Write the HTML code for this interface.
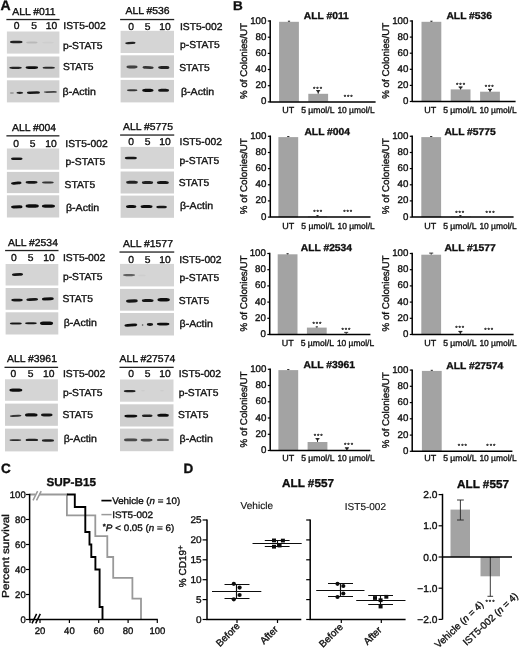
<!DOCTYPE html>
<html lang="en">
<head>
<meta charset="utf-8">
<title>Figure</title>
<style>
html,body{margin:0;padding:0;background:#fff;}
svg{display:block;}
text{font-family:"Liberation Sans", Arial, Helvetica, sans-serif;fill:#111;stroke:#111;stroke-width:0.35px;text-rendering:geometricPrecision;}
</style>
</head>
<body>
<svg width="520" height="649" viewBox="0 0 520 649">
<defs>
<filter id="bl" x="-10%" y="-50%" width="120%" height="200%"><feGaussianBlur stdDeviation="0.7 0.5"/></filter>
<filter id="soft" x="0" y="0" width="520" height="649" filterUnits="userSpaceOnUse"><feGaussianBlur stdDeviation="0.4"/></filter>
</defs>
<rect width="520" height="649" fill="#fff"/>
<g filter="url(#soft)">
<text transform="translate(12.2 15.3) scale(1.03 1)" font-size="10.1">ALL #011</text>
<rect x="6.4" y="18.9" width="53.2" height="1.3" fill="#222"/>
<text transform="translate(16.5 29.3) scale(1.03 1)" font-size="10.0" text-anchor="middle">0</text>
<text transform="translate(34 29.3) scale(1.03 1)" font-size="10.0" text-anchor="middle">5</text>
<text transform="translate(51.5 29.3) scale(1.03 1)" font-size="10.0" text-anchor="middle">10</text>
<text transform="translate(63.3 29.3) scale(1.03 1)" font-size="10.0">IST5-002</text>
<rect x="6.9" y="31.5" width="52.5" height="22.1" fill="#d5d5d5"/>
<text transform="translate(62.9 48.7) scale(1.03 1)" font-size="10.0">p-STAT5</text>
<rect x="6.9" y="56.5" width="52.5" height="21.200000000000003" fill="#cfcfcf"/>
<text transform="translate(62.9 70.0) scale(1.03 1)" font-size="10.0">STAT5</text>
<rect x="6.9" y="80.3" width="52.5" height="22.10000000000001" fill="#d1d1d1"/>
<text x="62.6" y="94.5" font-size="10.0" textLength="33.2" lengthAdjust="spacingAndGlyphs">β-Actin</text>
<g filter="url(#bl)">
<rect x="10.00" y="40.80" width="12.50" height="2.40" rx="3.20" ry="1.20" fill="#101010" opacity="0.9"/>
<rect x="26.20" y="41.40" width="11.30" height="2.20" rx="3.20" ry="1.10" fill="#101010" opacity="0.13"/>
<rect x="42.00" y="41.70" width="12.00" height="1.80" rx="3.20" ry="0.90" fill="#101010" opacity="0.03"/>
<rect x="9.40" y="66.70" width="12.50" height="2.20" rx="3.20" ry="1.10" fill="#101010" opacity="0.9"/>
<rect x="25.60" y="66.30" width="12.50" height="2.60" rx="3.20" ry="1.30" fill="#101010" opacity="1"/>
<rect x="42.50" y="66.80" width="12.50" height="2.00" rx="3.20" ry="1.00" fill="#101010" opacity="0.85"/>
<rect x="9.80" y="92.10" width="4.20" height="1.80" rx="2.10" ry="0.90" fill="#101010" opacity="0.25"/>
<rect x="16.50" y="91.65" width="6.60" height="2.30" rx="3.20" ry="1.15" fill="#101010" opacity="0.9"/>
<rect x="26.90" y="91.35" width="13.10" height="2.50" rx="3.20" ry="1.25" fill="#101010" opacity="0.95" transform="rotate(-1 33.5 92.6)"/>
<rect x="43.80" y="91.15" width="13.10" height="1.70" rx="3.20" ry="0.85" fill="#101010" opacity="0.75" transform="rotate(-1 50.3 92)"/>
</g>
<text transform="translate(125.5 14.2) scale(1.03 1)" font-size="10.1">ALL #536</text>
<rect x="120.1" y="18.9" width="54.10000000000001" height="1.3" fill="#222"/>
<text transform="translate(131 29.7) scale(1.03 1)" font-size="10.0" text-anchor="middle">0</text>
<text transform="translate(147.5 29.7) scale(1.03 1)" font-size="10.0" text-anchor="middle">5</text>
<text transform="translate(165 29.7) scale(1.03 1)" font-size="10.0" text-anchor="middle">10</text>
<text transform="translate(180 29.7) scale(1.03 1)" font-size="10.0">IST5-002</text>
<rect x="120.6" y="30.8" width="53.400000000000006" height="22.2" fill="#d5d5d5"/>
<text transform="translate(180 48.3) scale(1.03 1)" font-size="10.0">p-STAT5</text>
<rect x="120.6" y="55.3" width="53.400000000000006" height="22.400000000000006" fill="#cfcfcf"/>
<text transform="translate(179.2 70.7) scale(1.03 1)" font-size="10.0">STAT5</text>
<rect x="120.6" y="79.9" width="53.400000000000006" height="22.5" fill="#d1d1d1"/>
<text x="181" y="94.5" font-size="10.0" textLength="33.2" lengthAdjust="spacingAndGlyphs">β-Actin</text>
<g filter="url(#bl)">
<rect x="125.20" y="41.85" width="10.40" height="2.30" rx="3.20" ry="1.15" fill="#101010" opacity="0.9" transform="rotate(-3 130.4 43)"/>
<rect x="126.50" y="65.60" width="11.00" height="2.80" rx="3.20" ry="1.40" fill="#101010" opacity="0.75"/>
<rect x="142.50" y="66.10" width="11.20" height="2.80" rx="3.20" ry="1.40" fill="#101010" opacity="0.8" transform="rotate(2 148.1 67.5)"/>
<rect x="158.10" y="66.00" width="11.30" height="3.00" rx="3.20" ry="1.50" fill="#101010" opacity="0.9" transform="rotate(-1 163.8 67.5)"/>
<rect x="126.90" y="89.30" width="10.60" height="2.00" rx="3.20" ry="1.00" fill="#101010" opacity="0.8"/>
<rect x="142.20" y="88.70" width="11.30" height="3.20" rx="3.20" ry="1.60" fill="#101010" opacity="1"/>
<rect x="158.10" y="88.80" width="10.90" height="3.00" rx="3.20" ry="1.50" fill="#101010" opacity="0.95"/>
</g>
<text transform="translate(12 130.7) scale(1.03 1)" font-size="10.1">ALL #004</text>
<rect x="6.4" y="135.2" width="53.00000000000001" height="1.3" fill="#222"/>
<text transform="translate(16 146.6) scale(1.03 1)" font-size="10.0" text-anchor="middle">0</text>
<text transform="translate(32.5 146.6) scale(1.03 1)" font-size="10.0" text-anchor="middle">5</text>
<text transform="translate(51 146.6) scale(1.03 1)" font-size="10.0" text-anchor="middle">10</text>
<text transform="translate(65.3 146.6) scale(1.03 1)" font-size="10.0">IST5-002</text>
<rect x="6.9" y="148.5" width="52.300000000000004" height="21.19999999999999" fill="#d5d5d5"/>
<text transform="translate(65.6 165.2) scale(1.03 1)" font-size="10.0">p-STAT5</text>
<rect x="6.9" y="171.9" width="52.300000000000004" height="21.19999999999999" fill="#cfcfcf"/>
<text transform="translate(64.6 187.6) scale(1.03 1)" font-size="10.0">STAT5</text>
<rect x="6.9" y="195.3" width="52.300000000000004" height="22.19999999999999" fill="#d1d1d1"/>
<text x="66" y="210.5" font-size="10.0" textLength="33.2" lengthAdjust="spacingAndGlyphs">β-Actin</text>
<g filter="url(#bl)">
<rect x="11.00" y="157.50" width="11.50" height="2.60" rx="3.20" ry="1.30" fill="#101010" opacity="0.95"/>
<rect x="11.00" y="181.70" width="10.50" height="2.80" rx="3.20" ry="1.40" fill="#101010" opacity="1" transform="rotate(-5 16.2 183.1)"/>
<rect x="25.60" y="180.90" width="11.90" height="2.80" rx="3.20" ry="1.40" fill="#101010" opacity="0.95"/>
<rect x="41.90" y="181.50" width="11.90" height="2.00" rx="3.20" ry="1.00" fill="#101010" opacity="0.8"/>
<rect x="11.00" y="205.40" width="11.50" height="3.00" rx="3.20" ry="1.50" fill="#101010" opacity="1" transform="rotate(-2 16.8 206.9)"/>
<rect x="25.60" y="204.30" width="13.20" height="3.40" rx="3.20" ry="1.70" fill="#101010" opacity="1"/>
<rect x="41.90" y="204.50" width="13.10" height="3.20" rx="3.20" ry="1.60" fill="#101010" opacity="1"/>
</g>
<text transform="translate(123 130.3) scale(1.03 1)" font-size="10.1">ALL #5775</text>
<rect x="120.1" y="134.4" width="54.10000000000001" height="1.3" fill="#222"/>
<text transform="translate(131 145.3) scale(1.03 1)" font-size="10.0" text-anchor="middle">0</text>
<text transform="translate(147.5 145.3) scale(1.03 1)" font-size="10.0" text-anchor="middle">5</text>
<text transform="translate(165 145.3) scale(1.03 1)" font-size="10.0" text-anchor="middle">10</text>
<text transform="translate(179.6 145.3) scale(1.03 1)" font-size="10.0">IST5-002</text>
<rect x="120.6" y="146.9" width="53.400000000000006" height="21.900000000000006" fill="#d5d5d5"/>
<text transform="translate(179.6 163.5) scale(1.03 1)" font-size="10.0">p-STAT5</text>
<rect x="120.6" y="171.5" width="53.400000000000006" height="22.0" fill="#cfcfcf"/>
<text transform="translate(178.7 185.8) scale(1.03 1)" font-size="10.0">STAT5</text>
<rect x="120.6" y="195.6" width="53.400000000000006" height="22.200000000000017" fill="#d1d1d1"/>
<text x="180" y="208.5" font-size="10.0" textLength="33.2" lengthAdjust="spacingAndGlyphs">β-Actin</text>
<g filter="url(#bl)">
<rect x="124.80" y="156.85" width="12.10" height="2.50" rx="3.20" ry="1.25" fill="#101010" opacity="0.95"/>
<rect x="126.20" y="180.80" width="11.60" height="3.00" rx="3.20" ry="1.50" fill="#101010" opacity="0.9"/>
<rect x="141.90" y="181.00" width="11.20" height="3.00" rx="3.20" ry="1.50" fill="#101010" opacity="0.9"/>
<rect x="156.90" y="180.90" width="11.90" height="3.20" rx="3.20" ry="1.60" fill="#101010" opacity="0.95"/>
<rect x="126.00" y="204.90" width="10.30" height="3.20" rx="3.20" ry="1.60" fill="#101010" opacity="1"/>
<rect x="140.60" y="205.10" width="11.90" height="3.00" rx="3.20" ry="1.50" fill="#101010" opacity="1"/>
<rect x="156.30" y="205.70" width="10.60" height="2.60" rx="3.20" ry="1.30" fill="#101010" opacity="0.95"/>
</g>
<text transform="translate(8 245.6) scale(1.03 1)" font-size="10.1">ALL #2534</text>
<rect x="5.1" y="249.9" width="53.4" height="1.3" fill="#222"/>
<text transform="translate(13.8 260.9) scale(1.03 1)" font-size="10.0" text-anchor="middle">0</text>
<text transform="translate(30.5 260.9) scale(1.03 1)" font-size="10.0" text-anchor="middle">5</text>
<text transform="translate(49 260.9) scale(1.03 1)" font-size="10.0" text-anchor="middle">10</text>
<text transform="translate(62.9 260.9) scale(1.03 1)" font-size="10.0">IST5-002</text>
<rect x="5.6" y="264" width="52.699999999999996" height="21.5" fill="#d5d5d5"/>
<text transform="translate(62.9 279.5) scale(1.03 1)" font-size="10.0">p-STAT5</text>
<rect x="5.6" y="288" width="52.699999999999996" height="21.80000000000001" fill="#cfcfcf"/>
<text transform="translate(62.4 301.8) scale(1.03 1)" font-size="10.0">STAT5</text>
<rect x="5.6" y="312.3" width="52.699999999999996" height="22.19999999999999" fill="#d1d1d1"/>
<text x="63.7" y="325.5" font-size="10.0" textLength="33.2" lengthAdjust="spacingAndGlyphs">β-Actin</text>
<g filter="url(#bl)">
<rect x="11.90" y="273.10" width="11.20" height="2.80" rx="3.20" ry="1.40" fill="#101010" opacity="0.95" transform="rotate(-2 17.5 274.5)"/>
<rect x="11.30" y="298.80" width="11.50" height="2.60" rx="3.20" ry="1.30" fill="#101010" opacity="0.95"/>
<rect x="26.30" y="298.10" width="11.80" height="2.80" rx="3.20" ry="1.40" fill="#101010" opacity="0.95" transform="rotate(-2 32.2 299.5)"/>
<rect x="41.90" y="297.40" width="11.90" height="3.00" rx="3.20" ry="1.50" fill="#101010" opacity="1" transform="rotate(-3 47.8 298.9)"/>
<rect x="9.80" y="322.50" width="12.10" height="2.00" rx="3.20" ry="1.00" fill="#101010" opacity="0.95"/>
<rect x="25.00" y="322.30" width="11.90" height="2.00" rx="3.20" ry="1.00" fill="#101010" opacity="0.95"/>
<rect x="40.00" y="321.50" width="13.10" height="3.60" rx="3.20" ry="1.80" fill="#101010" opacity="1"/>
</g>
<text transform="translate(123 246.5) scale(1.03 1)" font-size="10.1">ALL #1577</text>
<rect x="119.5" y="251.4" width="54.7" height="1.3" fill="#222"/>
<text transform="translate(131 262.6) scale(1.03 1)" font-size="10.0" text-anchor="middle">0</text>
<text transform="translate(147.5 262.6) scale(1.03 1)" font-size="10.0" text-anchor="middle">5</text>
<text transform="translate(165 262.6) scale(1.03 1)" font-size="10.0" text-anchor="middle">10</text>
<text transform="translate(179.2 262.6) scale(1.03 1)" font-size="10.0">IST5-002</text>
<rect x="120" y="263.9" width="54" height="22.5" fill="#d5d5d5"/>
<text transform="translate(179.6 281.2) scale(1.03 1)" font-size="10.0">p-STAT5</text>
<rect x="120" y="288.9" width="54" height="21.80000000000001" fill="#cfcfcf"/>
<text transform="translate(178.7 303.6) scale(1.03 1)" font-size="10.0">STAT5</text>
<rect x="120" y="313" width="54" height="22.5" fill="#d1d1d1"/>
<text x="179.6" y="326.8" font-size="10.0" textLength="33.2" lengthAdjust="spacingAndGlyphs">β-Actin</text>
<g filter="url(#bl)">
<rect x="123.10" y="273.95" width="11.90" height="2.30" rx="3.20" ry="1.15" fill="#101010" opacity="0.6"/>
<rect x="138.00" y="274.50" width="8.00" height="1.80" rx="3.20" ry="0.90" fill="#101010" opacity="0.03"/>
<rect x="126.00" y="299.40" width="11.80" height="3.20" rx="3.20" ry="1.60" fill="#101010" opacity="0.95" transform="rotate(-2 131.9 301)"/>
<rect x="141.90" y="299.00" width="11.60" height="3.00" rx="3.20" ry="1.50" fill="#101010" opacity="0.95"/>
<rect x="157.50" y="298.10" width="12.30" height="3.40" rx="3.20" ry="1.70" fill="#101010" opacity="1"/>
<rect x="124.40" y="323.70" width="12.90" height="2.80" rx="3.20" ry="1.40" fill="#101010" opacity="1" transform="rotate(-4 130.9 325.1)"/>
<rect x="141.80" y="324.20" width="1.60" height="1.60" rx="0.80" ry="0.80" fill="#101010" opacity="0.7"/>
<rect x="146.90" y="323.10" width="6.20" height="2.80" rx="3.10" ry="1.40" fill="#101010" opacity="0.95"/>
<rect x="156.90" y="322.70" width="12.50" height="2.80" rx="3.20" ry="1.40" fill="#101010" opacity="1"/>
</g>
<text transform="translate(7 362.3) scale(1.03 1)" font-size="10.1">ALL #3961</text>
<rect x="4.5" y="366.7" width="53.6" height="1.3" fill="#222"/>
<text transform="translate(13.3 377.3) scale(1.03 1)" font-size="10.0" text-anchor="middle">0</text>
<text transform="translate(30.5 377.3) scale(1.03 1)" font-size="10.0" text-anchor="middle">5</text>
<text transform="translate(48.8 377.3) scale(1.03 1)" font-size="10.0" text-anchor="middle">10</text>
<text transform="translate(62.9 377.3) scale(1.03 1)" font-size="10.0">IST5-002</text>
<rect x="5" y="379.3" width="52.9" height="21.5" fill="#d5d5d5"/>
<text transform="translate(62.9 395.5) scale(1.03 1)" font-size="10.0">p-STAT5</text>
<rect x="5" y="403.6" width="52.9" height="22.19999999999999" fill="#cfcfcf"/>
<text transform="translate(62.4 418.3) scale(1.03 1)" font-size="10.0">STAT5</text>
<rect x="5" y="428.6" width="52.9" height="22.799999999999955" fill="#d1d1d1"/>
<text x="63.7" y="441.5" font-size="10.0" textLength="33.2" lengthAdjust="spacingAndGlyphs">β-Actin</text>
<g filter="url(#bl)">
<rect x="9.40" y="388.50" width="12.90" height="3.20" rx="3.20" ry="1.60" fill="#101010" opacity="1"/>
<rect x="9.80" y="414.80" width="11.70" height="2.00" rx="3.20" ry="1.00" fill="#101010" opacity="0.8" transform="rotate(-3 15.7 415.8)"/>
<rect x="25.00" y="413.20" width="12.50" height="3.40" rx="3.20" ry="1.70" fill="#101010" opacity="1"/>
<rect x="41.00" y="413.60" width="11.50" height="2.80" rx="3.20" ry="1.40" fill="#101010" opacity="0.95"/>
<rect x="9.40" y="439.15" width="11.90" height="1.90" rx="3.20" ry="0.95" fill="#101010" opacity="0.85"/>
<rect x="25.60" y="438.70" width="12.50" height="2.40" rx="3.20" ry="1.20" fill="#101010" opacity="0.9"/>
<rect x="41.90" y="439.30" width="12.10" height="2.40" rx="3.20" ry="1.20" fill="#101010" opacity="0.9"/>
</g>
<text transform="translate(119.5 362.3) scale(1.03 1)" font-size="10.1">ALL #27574</text>
<rect x="119.5" y="366.7" width="54.2" height="1.3" fill="#222"/>
<text transform="translate(131 377.3) scale(1.03 1)" font-size="10.0" text-anchor="middle">0</text>
<text transform="translate(147.5 377.3) scale(1.03 1)" font-size="10.0" text-anchor="middle">5</text>
<text transform="translate(165 377.3) scale(1.03 1)" font-size="10.0" text-anchor="middle">10</text>
<text transform="translate(178.7 377.3) scale(1.03 1)" font-size="10.0">IST5-002</text>
<rect x="120" y="379.5" width="53.5" height="22.19999999999999" fill="#d5d5d5"/>
<text transform="translate(178.7 395.5) scale(1.03 1)" font-size="10.0">p-STAT5</text>
<rect x="120" y="404.3" width="53.5" height="22.19999999999999" fill="#cfcfcf"/>
<text transform="translate(177.9 418.1) scale(1.03 1)" font-size="10.0">STAT5</text>
<rect x="120" y="428.6" width="53.5" height="22.599999999999966" fill="#d1d1d1"/>
<text x="179.6" y="441.5" font-size="10.0" textLength="33.2" lengthAdjust="spacingAndGlyphs">β-Actin</text>
<g filter="url(#bl)">
<rect x="123.80" y="389.90" width="11.80" height="2.40" rx="3.20" ry="1.20" fill="#101010" opacity="0.9"/>
<rect x="141.00" y="390.00" width="4.00" height="1.60" rx="2.00" ry="0.80" fill="#101010" opacity="0.04"/>
<rect x="160.00" y="390.00" width="4.00" height="1.60" rx="2.00" ry="0.80" fill="#101010" opacity="0.04"/>
<rect x="124.40" y="414.70" width="12.90" height="2.80" rx="3.20" ry="1.40" fill="#101010" opacity="1"/>
<rect x="141.90" y="414.50" width="10.60" height="2.60" rx="3.20" ry="1.30" fill="#101010" opacity="0.9"/>
<rect x="157.30" y="413.80" width="11.50" height="3.00" rx="3.20" ry="1.50" fill="#101010" opacity="1"/>
<rect x="124.00" y="438.50" width="13.30" height="2.80" rx="3.20" ry="1.40" fill="#101010" opacity="0.7"/>
<rect x="140.60" y="438.80" width="11.90" height="2.60" rx="3.20" ry="1.30" fill="#101010" opacity="0.7"/>
<rect x="156.90" y="438.70" width="12.10" height="2.40" rx="3.20" ry="1.20" fill="#101010" opacity="0.65"/>
</g>
<rect x="279.1" y="21.8" width="19.8" height="80.1" fill="#a3a3a3"/>
<rect x="308.3" y="93.8" width="19.8" height="8.1" fill="#a3a3a3"/>
<path d="M289.0 21.8V21.2M287.9 21.2H290.1" stroke="#222" stroke-width="0.9" fill="none"/>
<path d="M318.2 93.8V90.6M316.2 90.6H320.2" stroke="#222" stroke-width="0.9" fill="none"/>
<path d="M316.3 90.3H320.1L318.2 93.2Z" fill="#222"/>
<path d="M270.2 20.3V101.9H375.6" stroke="#000" stroke-width="1.5" fill="none" stroke-linejoin="round"/>
<path d="M267.8 101.9H270.2" stroke="#000" stroke-width="1.2"/>
<text transform="translate(266.3 104.4) scale(1.0 1)" font-size="9.7" text-anchor="end">0</text>
<path d="M267.8 85.7H270.2" stroke="#000" stroke-width="1.2"/>
<text transform="translate(266.3 88.2) scale(1.0 1)" font-size="9.7" text-anchor="end">20</text>
<path d="M267.8 69.5H270.2" stroke="#000" stroke-width="1.2"/>
<text transform="translate(266.3 72.0) scale(1.0 1)" font-size="9.7" text-anchor="end">40</text>
<path d="M267.8 53.4H270.2" stroke="#000" stroke-width="1.2"/>
<text transform="translate(266.3 55.9) scale(1.0 1)" font-size="9.7" text-anchor="end">60</text>
<path d="M267.8 37.2H270.2" stroke="#000" stroke-width="1.2"/>
<text transform="translate(266.3 39.7) scale(1.0 1)" font-size="9.7" text-anchor="end">80</text>
<path d="M267.8 21.0H270.2" stroke="#000" stroke-width="1.2"/>
<text transform="translate(266.3 23.5) scale(1.0 1)" font-size="9.7" text-anchor="end">100</text>
<text transform="translate(247.1 61.0) rotate(-90)" font-size="9.7" text-anchor="middle" textLength="76" lengthAdjust="spacingAndGlyphs">% of Colonies/UT</text>
<text transform="translate(303.8 18.9) scale(1.03 1)" font-size="10.0" font-weight="bold">ALL #011</text>
<text x="318" y="91.1" font-size="6.2" text-anchor="middle" letter-spacing="0.9" style="stroke-width:0.2px">***</text>
<text x="348.6" y="99.2" font-size="6.2" text-anchor="middle" letter-spacing="0.9" style="stroke-width:0.2px">***</text>
<text transform="translate(288.2 112.80000000000001) scale(1.03 1)" font-size="8.7" text-anchor="middle">UT</text>
<text x="317.8" y="112.80000000000001" font-size="8.7" text-anchor="middle" textLength="33.3" lengthAdjust="spacingAndGlyphs">5 µmol/L</text>
<text x="356.0" y="112.80000000000001" font-size="8.7" text-anchor="middle" textLength="37.2" lengthAdjust="spacingAndGlyphs">10 µmol/L</text>
<rect x="421.5" y="21.8" width="19.8" height="79.7" fill="#a3a3a3"/>
<rect x="450.7" y="89.4" width="19.8" height="12.1" fill="#a3a3a3"/>
<rect x="480.1" y="91.7" width="19.8" height="9.8" fill="#a3a3a3"/>
<path d="M431.4 21.8V21.2M430.3 21.2H432.5" stroke="#222" stroke-width="0.9" fill="none"/>
<path d="M460.6 89.4V87.0M458.6 87.0H462.6" stroke="#222" stroke-width="0.9" fill="none"/>
<path d="M458.7 86.7H462.5L460.6 89.6Z" fill="#222"/>
<path d="M490.0 91.7V89.3M488.0 89.3H492.0" stroke="#222" stroke-width="0.9" fill="none"/>
<path d="M488.1 89.0H491.9L490.0 91.9Z" fill="#222"/>
<path d="M412.2 20.3V101.5H515.6" stroke="#000" stroke-width="1.5" fill="none" stroke-linejoin="round"/>
<path d="M409.8 101.5H412.2" stroke="#000" stroke-width="1.2"/>
<text transform="translate(408.3 104.0) scale(1.0 1)" font-size="9.7" text-anchor="end">0</text>
<path d="M409.8 85.4H412.2" stroke="#000" stroke-width="1.2"/>
<text transform="translate(408.3 87.9) scale(1.0 1)" font-size="9.7" text-anchor="end">20</text>
<path d="M409.8 69.3H412.2" stroke="#000" stroke-width="1.2"/>
<text transform="translate(408.3 71.8) scale(1.0 1)" font-size="9.7" text-anchor="end">40</text>
<path d="M409.8 53.2H412.2" stroke="#000" stroke-width="1.2"/>
<text transform="translate(408.3 55.7) scale(1.0 1)" font-size="9.7" text-anchor="end">60</text>
<path d="M409.8 37.1H412.2" stroke="#000" stroke-width="1.2"/>
<text transform="translate(408.3 39.6) scale(1.0 1)" font-size="9.7" text-anchor="end">80</text>
<path d="M409.8 21.0H412.2" stroke="#000" stroke-width="1.2"/>
<text transform="translate(408.3 23.5) scale(1.0 1)" font-size="9.7" text-anchor="end">100</text>
<text transform="translate(389.09999999999997 60.8) rotate(-90)" font-size="9.7" text-anchor="middle" textLength="76" lengthAdjust="spacingAndGlyphs">% of Colonies/UT</text>
<text transform="translate(446.4 18.9) scale(1.03 1)" font-size="10.0" font-weight="bold">ALL #536</text>
<text x="461" y="86.5" font-size="6.2" text-anchor="middle" letter-spacing="0.9" style="stroke-width:0.2px">***</text>
<text x="489.7" y="88.9" font-size="6.2" text-anchor="middle" letter-spacing="0.9" style="stroke-width:0.2px">***</text>
<text transform="translate(430.2 112.80000000000001) scale(1.03 1)" font-size="8.7" text-anchor="middle">UT</text>
<text x="459.8" y="112.80000000000001" font-size="8.7" text-anchor="middle" textLength="33.3" lengthAdjust="spacingAndGlyphs">5 µmol/L</text>
<text x="498.0" y="112.80000000000001" font-size="8.7" text-anchor="middle" textLength="37.2" lengthAdjust="spacingAndGlyphs">10 µmol/L</text>
<rect x="278.4" y="137.1" width="19.8" height="80.0" fill="#a3a3a3"/>
<rect x="307.6" y="216.5" width="19.8" height="0.6" fill="#a3a3a3"/>
<path d="M288.3 137.1V136.5M287.2 136.5H289.4" stroke="#222" stroke-width="0.9" fill="none"/>
<path d="M317.5 216.5V215.5M316.4 215.5H318.6" stroke="#222" stroke-width="0.9" fill="none"/>
<path d="M270.3 135.6V217.1H370.5" stroke="#000" stroke-width="1.5" fill="none" stroke-linejoin="round"/>
<path d="M267.90000000000003 217.1H270.3" stroke="#000" stroke-width="1.2"/>
<text transform="translate(266.40000000000003 219.6) scale(1.0 1)" font-size="9.7" text-anchor="end">0</text>
<path d="M267.90000000000003 200.9H270.3" stroke="#000" stroke-width="1.2"/>
<text transform="translate(266.40000000000003 203.4) scale(1.0 1)" font-size="9.7" text-anchor="end">20</text>
<path d="M267.90000000000003 184.8H270.3" stroke="#000" stroke-width="1.2"/>
<text transform="translate(266.40000000000003 187.3) scale(1.0 1)" font-size="9.7" text-anchor="end">40</text>
<path d="M267.90000000000003 168.6H270.3" stroke="#000" stroke-width="1.2"/>
<text transform="translate(266.40000000000003 171.1) scale(1.0 1)" font-size="9.7" text-anchor="end">60</text>
<path d="M267.90000000000003 152.5H270.3" stroke="#000" stroke-width="1.2"/>
<text transform="translate(266.40000000000003 155.0) scale(1.0 1)" font-size="9.7" text-anchor="end">80</text>
<path d="M267.90000000000003 136.3H270.3" stroke="#000" stroke-width="1.2"/>
<text transform="translate(266.40000000000003 138.8) scale(1.0 1)" font-size="9.7" text-anchor="end">100</text>
<text transform="translate(247.20000000000002 176.2) rotate(-90)" font-size="9.7" text-anchor="middle" textLength="76" lengthAdjust="spacingAndGlyphs">% of Colonies/UT</text>
<text transform="translate(304.4 134.7) scale(1.03 1)" font-size="10.0" font-weight="bold">ALL #004</text>
<text x="318.1" y="214.2" font-size="6.2" text-anchor="middle" letter-spacing="0.9" style="stroke-width:0.2px">***</text>
<text x="348.2" y="214.4" font-size="6.2" text-anchor="middle" letter-spacing="0.9" style="stroke-width:0.2px">***</text>
<text transform="translate(288.3 228.6) scale(1.03 1)" font-size="8.7" text-anchor="middle">UT</text>
<text x="317.90000000000003" y="228.6" font-size="8.7" text-anchor="middle" textLength="33.3" lengthAdjust="spacingAndGlyphs">5 µmol/L</text>
<text x="356.1" y="228.6" font-size="8.7" text-anchor="middle" textLength="37.2" lengthAdjust="spacingAndGlyphs">10 µmol/L</text>
<rect x="421.3" y="137.1" width="19.8" height="80.0" fill="#a3a3a3"/>
<rect x="450.5" y="216.5" width="19.8" height="0.6" fill="#a3a3a3"/>
<path d="M431.2 137.1V136.5M430.1 136.5H432.3" stroke="#222" stroke-width="0.9" fill="none"/>
<path d="M460.4 216.5V215.5M459.3 215.5H461.5" stroke="#222" stroke-width="0.9" fill="none"/>
<path d="M412.2 135.6V217.1H513.6" stroke="#000" stroke-width="1.5" fill="none" stroke-linejoin="round"/>
<path d="M409.8 217.1H412.2" stroke="#000" stroke-width="1.2"/>
<text transform="translate(408.3 219.6) scale(1.0 1)" font-size="9.7" text-anchor="end">0</text>
<path d="M409.8 200.9H412.2" stroke="#000" stroke-width="1.2"/>
<text transform="translate(408.3 203.4) scale(1.0 1)" font-size="9.7" text-anchor="end">20</text>
<path d="M409.8 184.8H412.2" stroke="#000" stroke-width="1.2"/>
<text transform="translate(408.3 187.3) scale(1.0 1)" font-size="9.7" text-anchor="end">40</text>
<path d="M409.8 168.6H412.2" stroke="#000" stroke-width="1.2"/>
<text transform="translate(408.3 171.1) scale(1.0 1)" font-size="9.7" text-anchor="end">60</text>
<path d="M409.8 152.5H412.2" stroke="#000" stroke-width="1.2"/>
<text transform="translate(408.3 155.0) scale(1.0 1)" font-size="9.7" text-anchor="end">80</text>
<path d="M409.8 136.3H412.2" stroke="#000" stroke-width="1.2"/>
<text transform="translate(408.3 138.8) scale(1.0 1)" font-size="9.7" text-anchor="end">100</text>
<text transform="translate(389.09999999999997 176.2) rotate(-90)" font-size="9.7" text-anchor="middle" textLength="76" lengthAdjust="spacingAndGlyphs">% of Colonies/UT</text>
<text transform="translate(444.4 134.7) scale(1.03 1)" font-size="10.0" font-weight="bold">ALL #5775</text>
<text x="460.2" y="214.6" font-size="6.2" text-anchor="middle" letter-spacing="0.9" style="stroke-width:0.2px">***</text>
<text x="490.5" y="214.6" font-size="6.2" text-anchor="middle" letter-spacing="0.9" style="stroke-width:0.2px">***</text>
<text transform="translate(430.2 228.6) scale(1.03 1)" font-size="8.7" text-anchor="middle">UT</text>
<text x="459.8" y="228.6" font-size="8.7" text-anchor="middle" textLength="33.3" lengthAdjust="spacingAndGlyphs">5 µmol/L</text>
<text x="498.0" y="228.6" font-size="8.7" text-anchor="middle" textLength="37.2" lengthAdjust="spacingAndGlyphs">10 µmol/L</text>
<rect x="277.7" y="254.3" width="19.8" height="80.2" fill="#a3a3a3"/>
<rect x="306.9" y="327.6" width="19.8" height="6.9" fill="#a3a3a3"/>
<rect x="336.3" y="334.0" width="19.8" height="0.5" fill="#a3a3a3"/>
<path d="M287.6 254.3V253.7M286.5 253.7H288.7" stroke="#222" stroke-width="0.9" fill="none"/>
<path d="M316.8 327.6V326.8M315.7 326.8H317.9" stroke="#222" stroke-width="0.9" fill="none"/>
<path d="M346.2 334.0V332.4M344.2 332.4H348.2" stroke="#222" stroke-width="0.9" fill="none"/>
<path d="M269.7 252.8V334.5H370.4" stroke="#000" stroke-width="1.5" fill="none" stroke-linejoin="round"/>
<path d="M267.3 334.5H269.7" stroke="#000" stroke-width="1.2"/>
<text transform="translate(265.8 337.0) scale(1.0 1)" font-size="9.7" text-anchor="end">0</text>
<path d="M267.3 318.3H269.7" stroke="#000" stroke-width="1.2"/>
<text transform="translate(265.8 320.8) scale(1.0 1)" font-size="9.7" text-anchor="end">20</text>
<path d="M267.3 302.1H269.7" stroke="#000" stroke-width="1.2"/>
<text transform="translate(265.8 304.6) scale(1.0 1)" font-size="9.7" text-anchor="end">40</text>
<path d="M267.3 285.9H269.7" stroke="#000" stroke-width="1.2"/>
<text transform="translate(265.8 288.4) scale(1.0 1)" font-size="9.7" text-anchor="end">60</text>
<path d="M267.3 269.7H269.7" stroke="#000" stroke-width="1.2"/>
<text transform="translate(265.8 272.2) scale(1.0 1)" font-size="9.7" text-anchor="end">80</text>
<path d="M267.3 253.5H269.7" stroke="#000" stroke-width="1.2"/>
<text transform="translate(265.8 256.0) scale(1.0 1)" font-size="9.7" text-anchor="end">100</text>
<text transform="translate(246.6 293.5) rotate(-90)" font-size="9.7" text-anchor="middle" textLength="76" lengthAdjust="spacingAndGlyphs">% of Colonies/UT</text>
<text transform="translate(300.7 251.4) scale(1.03 1)" font-size="10.0" font-weight="bold">ALL #2534</text>
<text x="317.4" y="325.9" font-size="6.2" text-anchor="middle" letter-spacing="0.9" style="stroke-width:0.2px">***</text>
<text x="346.4" y="331.6" font-size="6.2" text-anchor="middle" letter-spacing="0.9" style="stroke-width:0.2px">***</text>
<text transform="translate(287.7 346.0) scale(1.03 1)" font-size="8.7" text-anchor="middle">UT</text>
<text x="317.3" y="346.0" font-size="8.7" text-anchor="middle" textLength="33.3" lengthAdjust="spacingAndGlyphs">5 µmol/L</text>
<text x="355.5" y="346.0" font-size="8.7" text-anchor="middle" textLength="37.2" lengthAdjust="spacingAndGlyphs">10 µmol/L</text>
<rect x="421.3" y="254.7" width="19.8" height="79.8" fill="#a3a3a3"/>
<rect x="450.5" y="333.9" width="19.8" height="0.6" fill="#a3a3a3"/>
<path d="M431.2 254.7V253.1M429.2 253.1H433.2" stroke="#222" stroke-width="0.9" fill="none"/>
<path d="M460.4 333.9V331.4M458.4 331.4H462.4" stroke="#222" stroke-width="0.9" fill="none"/>
<path d="M458.5 331.1H462.3L460.4 334.0Z" fill="#222"/>
<path d="M412.2 252.8V334.5H513.6" stroke="#000" stroke-width="1.5" fill="none" stroke-linejoin="round"/>
<path d="M409.8 334.5H412.2" stroke="#000" stroke-width="1.2"/>
<text transform="translate(408.3 337.0) scale(1.0 1)" font-size="9.7" text-anchor="end">0</text>
<path d="M409.8 318.3H412.2" stroke="#000" stroke-width="1.2"/>
<text transform="translate(408.3 320.8) scale(1.0 1)" font-size="9.7" text-anchor="end">20</text>
<path d="M409.8 302.1H412.2" stroke="#000" stroke-width="1.2"/>
<text transform="translate(408.3 304.6) scale(1.0 1)" font-size="9.7" text-anchor="end">40</text>
<path d="M409.8 285.9H412.2" stroke="#000" stroke-width="1.2"/>
<text transform="translate(408.3 288.4) scale(1.0 1)" font-size="9.7" text-anchor="end">60</text>
<path d="M409.8 269.7H412.2" stroke="#000" stroke-width="1.2"/>
<text transform="translate(408.3 272.2) scale(1.0 1)" font-size="9.7" text-anchor="end">80</text>
<path d="M409.8 253.5H412.2" stroke="#000" stroke-width="1.2"/>
<text transform="translate(408.3 256.0) scale(1.0 1)" font-size="9.7" text-anchor="end">100</text>
<text transform="translate(389.09999999999997 293.5) rotate(-90)" font-size="9.7" text-anchor="middle" textLength="76" lengthAdjust="spacingAndGlyphs">% of Colonies/UT</text>
<text transform="translate(444.4 251.4) scale(1.03 1)" font-size="10.0" font-weight="bold">ALL #1577</text>
<text x="460.2" y="330.0" font-size="6.2" text-anchor="middle" letter-spacing="0.9" style="stroke-width:0.2px">***</text>
<text x="489.2" y="332.2" font-size="6.2" text-anchor="middle" letter-spacing="0.9" style="stroke-width:0.2px">***</text>
<text transform="translate(430.2 346.2) scale(1.03 1)" font-size="8.7" text-anchor="middle">UT</text>
<text x="459.8" y="346.2" font-size="8.7" text-anchor="middle" textLength="33.3" lengthAdjust="spacingAndGlyphs">5 µmol/L</text>
<text x="498.0" y="346.2" font-size="8.7" text-anchor="middle" textLength="37.2" lengthAdjust="spacingAndGlyphs">10 µmol/L</text>
<rect x="278.4" y="370.1" width="19.8" height="80.4" fill="#a3a3a3"/>
<rect x="307.6" y="442.0" width="19.8" height="8.5" fill="#a3a3a3"/>
<rect x="337.0" y="450.2" width="19.8" height="0.3" fill="#a3a3a3"/>
<path d="M288.3 370.1V369.5M287.2 369.5H289.4" stroke="#222" stroke-width="0.9" fill="none"/>
<path d="M317.5 442.0V438.6M315.5 438.6H319.5" stroke="#222" stroke-width="0.9" fill="none"/>
<path d="M315.6 438.3H319.4L317.5 441.2Z" fill="#222"/>
<path d="M346.9 450.2V447.9M344.9 447.9H348.9" stroke="#222" stroke-width="0.9" fill="none"/>
<path d="M345.0 447.6H348.8L346.9 450.5Z" fill="#222"/>
<path d="M270.2 368.6V450.5H370.4" stroke="#000" stroke-width="1.5" fill="none" stroke-linejoin="round"/>
<path d="M267.8 450.5H270.2" stroke="#000" stroke-width="1.2"/>
<text transform="translate(266.3 453.0) scale(1.0 1)" font-size="9.7" text-anchor="end">0</text>
<path d="M267.8 434.3H270.2" stroke="#000" stroke-width="1.2"/>
<text transform="translate(266.3 436.8) scale(1.0 1)" font-size="9.7" text-anchor="end">20</text>
<path d="M267.8 418.0H270.2" stroke="#000" stroke-width="1.2"/>
<text transform="translate(266.3 420.5) scale(1.0 1)" font-size="9.7" text-anchor="end">40</text>
<path d="M267.8 401.8H270.2" stroke="#000" stroke-width="1.2"/>
<text transform="translate(266.3 404.3) scale(1.0 1)" font-size="9.7" text-anchor="end">60</text>
<path d="M267.8 385.5H270.2" stroke="#000" stroke-width="1.2"/>
<text transform="translate(266.3 388.0) scale(1.0 1)" font-size="9.7" text-anchor="end">80</text>
<path d="M267.8 369.3H270.2" stroke="#000" stroke-width="1.2"/>
<text transform="translate(266.3 371.8) scale(1.0 1)" font-size="9.7" text-anchor="end">100</text>
<text transform="translate(247.1 409.4) rotate(-90)" font-size="9.7" text-anchor="middle" textLength="76" lengthAdjust="spacingAndGlyphs">% of Colonies/UT</text>
<text transform="translate(303.6 367.7) scale(1.03 1)" font-size="10.0" font-weight="bold">ALL #3961</text>
<text x="318.7" y="437.5" font-size="6.2" text-anchor="middle" letter-spacing="0.9" style="stroke-width:0.2px">***</text>
<text x="349" y="447.2" font-size="6.2" text-anchor="middle" letter-spacing="0.9" style="stroke-width:0.2px">***</text>
<text transform="translate(288.2 461.2) scale(1.03 1)" font-size="8.7" text-anchor="middle">UT</text>
<text x="317.8" y="461.2" font-size="8.7" text-anchor="middle" textLength="33.3" lengthAdjust="spacingAndGlyphs">5 µmol/L</text>
<text x="356.0" y="461.2" font-size="8.7" text-anchor="middle" textLength="37.2" lengthAdjust="spacingAndGlyphs">10 µmol/L</text>
<rect x="421.9" y="370.9" width="19.8" height="80.4" fill="#a3a3a3"/>
<path d="M431.8 370.9V370.3M430.7 370.3H432.9" stroke="#222" stroke-width="0.9" fill="none"/>
<path d="M412.2 369.4V451.3H512.4" stroke="#000" stroke-width="1.5" fill="none" stroke-linejoin="round"/>
<path d="M409.8 451.3H412.2" stroke="#000" stroke-width="1.2"/>
<text transform="translate(408.3 453.8) scale(1.0 1)" font-size="9.7" text-anchor="end">0</text>
<path d="M409.8 435.1H412.2" stroke="#000" stroke-width="1.2"/>
<text transform="translate(408.3 437.6) scale(1.0 1)" font-size="9.7" text-anchor="end">20</text>
<path d="M409.8 418.8H412.2" stroke="#000" stroke-width="1.2"/>
<text transform="translate(408.3 421.3) scale(1.0 1)" font-size="9.7" text-anchor="end">40</text>
<path d="M409.8 402.6H412.2" stroke="#000" stroke-width="1.2"/>
<text transform="translate(408.3 405.1) scale(1.0 1)" font-size="9.7" text-anchor="end">60</text>
<path d="M409.8 386.3H412.2" stroke="#000" stroke-width="1.2"/>
<text transform="translate(408.3 388.8) scale(1.0 1)" font-size="9.7" text-anchor="end">80</text>
<path d="M409.8 370.1H412.2" stroke="#000" stroke-width="1.2"/>
<text transform="translate(408.3 372.6) scale(1.0 1)" font-size="9.7" text-anchor="end">100</text>
<text transform="translate(389.09999999999997 410.2) rotate(-90)" font-size="9.7" text-anchor="middle" textLength="76" lengthAdjust="spacingAndGlyphs">% of Colonies/UT</text>
<text transform="translate(446.2 368.6) scale(1.03 1)" font-size="10.0" font-weight="bold">ALL #27574</text>
<text x="462.8" y="448.2" font-size="6.2" text-anchor="middle" letter-spacing="0.9" style="stroke-width:0.2px">***</text>
<text x="491.3" y="448.2" font-size="6.2" text-anchor="middle" letter-spacing="0.9" style="stroke-width:0.2px">***</text>
<text transform="translate(430.2 461.29999999999995) scale(1.03 1)" font-size="8.7" text-anchor="middle">UT</text>
<text x="459.8" y="461.29999999999995" font-size="8.7" text-anchor="middle" textLength="33.3" lengthAdjust="spacingAndGlyphs">5 µmol/L</text>
<text x="498.0" y="461.29999999999995" font-size="8.7" text-anchor="middle" textLength="37.2" lengthAdjust="spacingAndGlyphs">10 µmol/L</text>
<text transform="translate(0.6 10.2) scale(1.0 1)" font-size="14" font-weight="bold">A</text>
<text transform="translate(233.0 10.1) scale(1.05 1)" font-size="12.9" font-weight="bold">B</text>
<text transform="translate(0.9 473.2) scale(1.0 1)" font-size="13.5" font-weight="bold">C</text>
<text transform="translate(183.4 473.1) scale(1.0 1)" font-size="13.5" font-weight="bold">D</text>
<text x="71.2" y="485.6" font-size="11.5" text-anchor="middle" font-weight="bold" textLength="49.5" lengthAdjust="spacingAndGlyphs">SUP-B15</text>
<path d="M30 494.5H66.9V515.4H95.3V536.1H107.3V557.0H113.2V577.9H132.4V598.6H141V619.5" stroke="#999" stroke-width="1.8" fill="none"/>
<path d="M66.9 494.5H74.8V507.0H85.3V532.0H89.5V544.5H91.3V557.0H95.4V569.5H99.6V607.0H102.5V619.5" stroke="#000" stroke-width="1.9" fill="none"/>
<path d="M29.6 493.8V619.5H157.8" stroke="#000" stroke-width="1.5" fill="none"/>
<path d="M26 619.5H29.6" stroke="#000" stroke-width="1.2"/>
<text transform="translate(25.7 622.5) scale(1.0 1)" font-size="9.5" text-anchor="end">0</text>
<path d="M26 594.5H29.6" stroke="#000" stroke-width="1.2"/>
<text transform="translate(25.7 597.5) scale(1.0 1)" font-size="9.5" text-anchor="end">20</text>
<path d="M26 569.5H29.6" stroke="#000" stroke-width="1.2"/>
<text transform="translate(25.7 572.5) scale(1.0 1)" font-size="9.5" text-anchor="end">40</text>
<path d="M26 544.5H29.6" stroke="#000" stroke-width="1.2"/>
<text transform="translate(25.7 547.5) scale(1.0 1)" font-size="9.5" text-anchor="end">60</text>
<path d="M26 519.5H29.6" stroke="#000" stroke-width="1.2"/>
<text transform="translate(25.7 522.5) scale(1.0 1)" font-size="9.5" text-anchor="end">80</text>
<path d="M26 494.5H29.6" stroke="#000" stroke-width="1.2"/>
<text transform="translate(25.7 497.5) scale(1.0 1)" font-size="9.5" text-anchor="end">100</text>
<path d="M40 619.5V623" stroke="#000" stroke-width="1.2"/>
<text transform="translate(40 633.7) scale(1.0 1)" font-size="9.5" text-anchor="middle">20</text>
<path d="M69.4 619.5V623" stroke="#000" stroke-width="1.2"/>
<text transform="translate(69.4 633.7) scale(1.0 1)" font-size="9.5" text-anchor="middle">40</text>
<path d="M98.7 619.5V623" stroke="#000" stroke-width="1.2"/>
<text transform="translate(98.7 633.7) scale(1.0 1)" font-size="9.5" text-anchor="middle">60</text>
<path d="M128.1 619.5V623" stroke="#000" stroke-width="1.2"/>
<text transform="translate(128.1 633.7) scale(1.0 1)" font-size="9.5" text-anchor="middle">80</text>
<path d="M157.3 619.5V623" stroke="#000" stroke-width="1.2"/>
<text transform="translate(157.3 633.7) scale(1.0 1)" font-size="9.5" text-anchor="middle">100</text>
<path d="M32 623.3L36.6 613.8M35.7 623.3L40.3 613.8" stroke="#000" stroke-width="1.5" fill="none"/>
<path d="M30 619.5V623" stroke="#000" stroke-width="1.2"/>
<rect x="35.5" y="493" width="3.6" height="3.4" fill="#fff"/>
<path d="M33 500.3L37.6 491.1M36.5 500.3L41.2 491.1" stroke="#999" stroke-width="1.5" fill="none"/>
<text transform="translate(9.1 556) rotate(-90)" font-size="10.1" text-anchor="middle" textLength="84" lengthAdjust="spacingAndGlyphs">Percent survival</text>
<path d="M101.4 500.6H111.6" stroke="#000" stroke-width="1.7"/>
<path d="M101.4 514.6H111.6" stroke="#9a9a9a" stroke-width="1.5"/>
<text x="112.2" y="503.9" font-size="9.4" textLength="68" lengthAdjust="spacingAndGlyphs">Vehicle (<tspan font-style="italic">n</tspan> = 10)</text>
<text x="112.2" y="517.7" font-size="9.4" textLength="40.8" lengthAdjust="spacingAndGlyphs">IST5-002</text>
<text x="102.8" y="530.7" font-size="9.4" textLength="71.5" lengthAdjust="spacingAndGlyphs"><tspan font-size="7.5" dy="-1.6">*</tspan><tspan font-style="italic" dy="1.6">P</tspan> &lt; 0.05 (<tspan font-style="italic">n</tspan> = 6)</text>
<text x="308" y="487.2" font-size="11.5" text-anchor="middle" font-weight="bold" textLength="52" lengthAdjust="spacingAndGlyphs">ALL #557</text>
<text x="483" y="487.5" font-size="11.5" text-anchor="middle" font-weight="bold" textLength="52" lengthAdjust="spacingAndGlyphs">ALL #557</text>
<text x="256.8" y="508.8" font-size="10" text-anchor="middle" textLength="32.5" lengthAdjust="spacingAndGlyphs" style="stroke-width:0.15px">Vehicle</text>
<text x="365.4" y="509.8" font-size="10" text-anchor="middle" textLength="41.2" lengthAdjust="spacingAndGlyphs" style="stroke-width:0.15px">IST5-002</text>
<path d="M207 519.6V619.5H301.3" stroke="#000" stroke-width="1.5" fill="none"/>
<path d="M310.2 519.6V619.5H405.6" stroke="#000" stroke-width="1.5" fill="none"/>
<path d="M202.6 619.5H207" stroke="#000" stroke-width="1.2"/>
<path d="M306.2 619.5H310.2" stroke="#000" stroke-width="1.2"/>
<text transform="translate(201.6 622.8) scale(1.02 1)" font-size="9.8" text-anchor="end">0</text>
<path d="M202.6 599.6H207" stroke="#000" stroke-width="1.2"/>
<path d="M306.2 599.6H310.2" stroke="#000" stroke-width="1.2"/>
<text transform="translate(201.6 602.9) scale(1.02 1)" font-size="9.8" text-anchor="end">5</text>
<path d="M202.6 579.7H207" stroke="#000" stroke-width="1.2"/>
<path d="M306.2 579.7H310.2" stroke="#000" stroke-width="1.2"/>
<text transform="translate(201.6 583.0) scale(1.02 1)" font-size="9.8" text-anchor="end">10</text>
<path d="M202.6 559.8H207" stroke="#000" stroke-width="1.2"/>
<path d="M306.2 559.8H310.2" stroke="#000" stroke-width="1.2"/>
<text transform="translate(201.6 563.1) scale(1.02 1)" font-size="9.8" text-anchor="end">15</text>
<path d="M202.6 539.9H207" stroke="#000" stroke-width="1.2"/>
<path d="M306.2 539.9H310.2" stroke="#000" stroke-width="1.2"/>
<text transform="translate(201.6 543.2) scale(1.02 1)" font-size="9.8" text-anchor="end">20</text>
<path d="M202.6 520.0H207" stroke="#000" stroke-width="1.2"/>
<path d="M306.2 520.0H310.2" stroke="#000" stroke-width="1.2"/>
<text transform="translate(201.6 523.3) scale(1.02 1)" font-size="9.8" text-anchor="end">25</text>
<path d="M237 619.5V623" stroke="#000" stroke-width="1.2"/>
<path d="M277.5 619.5V623" stroke="#000" stroke-width="1.2"/>
<path d="M341.3 619.5V623" stroke="#000" stroke-width="1.2"/>
<path d="M381.3 619.5V623" stroke="#000" stroke-width="1.2"/>
<text transform="translate(186.2 566.2) rotate(-90)" font-size="10" text-anchor="middle">% CD19<tspan font-size="8" dy="-3">+</tspan></text>
<path d="M212 591.5H261.3M224.5 584.5H249.5M224.5 598.5H249.5M236.5 584.5V598.5" stroke="#111" stroke-width="1.15" fill="none"/>
<circle cx="233.8" cy="583.8" r="2.1" fill="#111"/>
<circle cx="239.6" cy="587.6" r="2.1" fill="#111"/>
<circle cx="239.6" cy="595" r="2.1" fill="#111"/>
<circle cx="233.8" cy="599.3" r="2.1" fill="#111"/>
<path d="M252.5 543.5H301.7M264.8 540.5H289.6M264.8 546.5H289.6M277.5 540.5V546.5" stroke="#111" stroke-width="1.15" fill="none"/>
<rect x="272.0" y="538.5" width="4" height="3.8" fill="#111"/>
<rect x="280.9" y="538.7" width="4" height="3.8" fill="#111"/>
<rect x="272.0" y="544.8" width="4" height="3.8" fill="#111"/>
<rect x="277.6" y="543.6" width="4" height="3.8" fill="#111"/>
<path d="M316.2 590.5H364.5M328 583.5H353M328 596.5H353M340.5 583.5V596.5" stroke="#111" stroke-width="1.15" fill="none"/>
<circle cx="337.5" cy="583.8" r="2.1" fill="#111"/>
<circle cx="343.3" cy="586" r="2.1" fill="#111"/>
<circle cx="343.3" cy="593.5" r="2.1" fill="#111"/>
<circle cx="337.5" cy="597" r="2.1" fill="#111"/>
<path d="M356.2 600.5H405.5M368.2 595.5H393M368.2 604.5H393M380.5 595.5V604.5" stroke="#111" stroke-width="1.15" fill="none"/>
<rect x="373.0" y="596.1" width="4" height="3.8" fill="#111"/>
<rect x="384.3" y="594.9" width="4" height="3.8" fill="#111"/>
<rect x="378.6" y="598.3" width="4" height="3.8" fill="#111"/>
<rect x="378.6" y="604.6" width="4" height="3.8" fill="#111"/>
<text transform="translate(240.5 626.6) scale(1.0 1) rotate(-45)" font-size="9.9" text-anchor="end">Before</text>
<text transform="translate(278.7 630) scale(1.0 1) rotate(-45)" font-size="9.9" text-anchor="end">After</text>
<text transform="translate(343.6 627.5) scale(1.0 1) rotate(-45)" font-size="9.9" text-anchor="end">Before</text>
<text transform="translate(382.3 630.7) scale(1.0 1) rotate(-45)" font-size="9.9" text-anchor="end">After</text>
<rect x="450.5" y="509.6" width="19.5" height="47.4" fill="#a3a3a3"/>
<rect x="480.5" y="557" width="19.5" height="19.3" fill="#a3a3a3"/>
<path d="M460.4 500V520M457 500H463.8M457 520H463.8" stroke="#222" stroke-width="0.9" fill="none"/>
<path d="M490.3 557V596.3M487.5 596.3H493.1" stroke="#222" stroke-width="0.9" fill="none"/>
<path d="M442.5 493.8V619.5" stroke="#000" stroke-width="1.5" fill="none"/>
<path d="M442.5 557H512" stroke="#000" stroke-width="1.5" fill="none"/>
<path d="M438.6 494.6H442.5" stroke="#000" stroke-width="1.2"/>
<text transform="translate(437.4 498.1) scale(1.02 1)" font-size="10" text-anchor="end">2.0</text>
<path d="M438.6 525.8H442.5" stroke="#000" stroke-width="1.2"/>
<text transform="translate(437.4 529.3) scale(1.02 1)" font-size="10" text-anchor="end">1.0</text>
<path d="M438.6 557.0H442.5" stroke="#000" stroke-width="1.2"/>
<text transform="translate(437.4 560.5) scale(1.02 1)" font-size="10" text-anchor="end">0.0</text>
<path d="M438.6 588.2H442.5" stroke="#000" stroke-width="1.2"/>
<text transform="translate(437.4 591.7) scale(1.02 1)" font-size="10" text-anchor="end">−1.0</text>
<path d="M438.6 619.4H442.5" stroke="#000" stroke-width="1.2"/>
<text transform="translate(437.4 622.9) scale(1.02 1)" font-size="10" text-anchor="end">−2.0</text>
<text x="490.5" y="603.7" font-size="6.2" text-anchor="middle" letter-spacing="0.9" style="stroke-width:0.2px">***</text>
<text transform="translate(484.2 605.3) rotate(-43.5)" font-size="9.8" text-anchor="end">Vehicle (<tspan font-style="italic">n</tspan> = 4)</text>
<text transform="translate(518.7 596.8) rotate(-43.5)" font-size="9.8" text-anchor="end">IST5-002 (<tspan font-style="italic">n</tspan> = 4)</text>
</g>
</svg>
</body>
</html>
